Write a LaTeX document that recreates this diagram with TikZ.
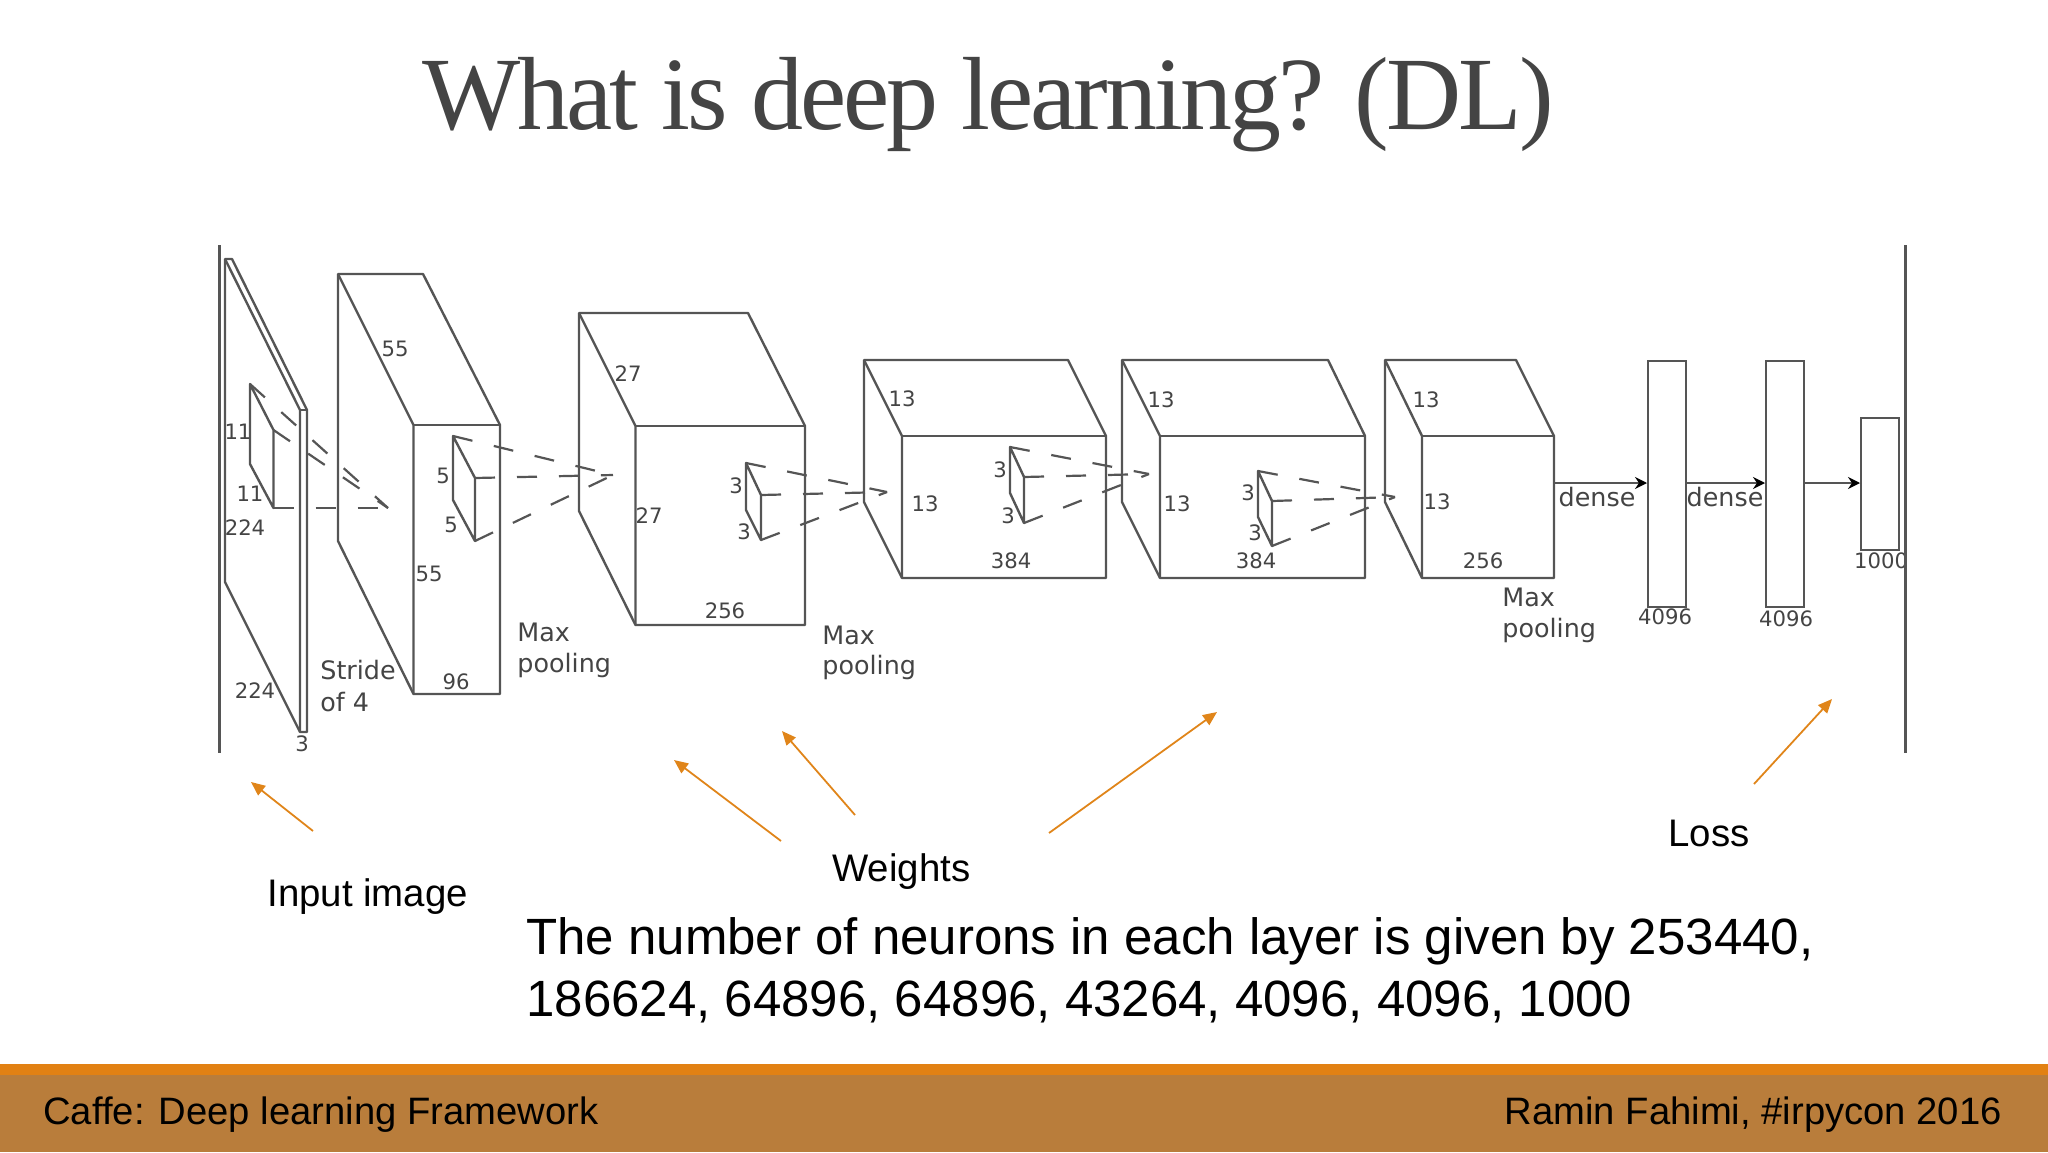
\documentclass[tikz,border=0pt]{standalone}
\usepackage{fontspec}
\setmainfont{Liberation Sans}
\newfontfamily\titlefont[LetterSpace=-2.9]{Liberation Serif}
\newfontfamily\figfont{DejaVu Sans}
\usetikzlibrary{arrows.meta}
\definecolor{figgray}{HTML}{555555}
\definecolor{figtext}{HTML}{444444}
\definecolor{orangeline}{HTML}{E0851A}
\definecolor{bandbrown}{HTML}{B97D3B}
\definecolor{bandtop}{HTML}{E28113}
\tikzset{
  wire/.style={draw=figgray,line width=1.2pt,line join=round},
  dashline/.style={draw=figgray,line width=1.1pt,dash pattern=on 10pt off 11pt},
  fcbox/.style={draw=figgray,line width=1.2pt,minimum width=19pt,inner sep=0pt,anchor=north west},
  flow/.style={draw=figgray,line width=1.1pt,-{Stealth[length=6pt,width=6pt,color=black]}},
  callout/.style={draw=orangeline,line width=.9pt,-{Triangle[length=7pt,width=6pt]}},
  dim/.style={font=\figfont\fontsize{10.6}{11}\selectfont,text=figtext,inner sep=0pt},
  big/.style={font=\figfont\fontsize{12.7}{12.7}\selectfont,text=figtext,inner sep=0pt},
  say/.style={font=\fontsize{19.2}{19.2}\selectfont,text=black,inner sep=0pt},
  foot/.style={font=\fontsize{19.1}{19.1}\selectfont,text=black,inner sep=0pt},
  body/.style={font=\fontsize{25.5}{25.5}\selectfont,text=black,inner sep=0pt,anchor=west},
}
\begin{document}
\begin{tikzpicture}[x=0.5pt,y=-0.5pt]
\useasboundingbox (0,0) rectangle (2048,1152);
% footer band
\fill[bandbrown] (0,1075) rectangle (2048,1152);
\fill[bandtop] (0,1064) rectangle (2048,1075);
% title
\node[inner sep=0pt,font=\titlefont\fontsize{52}{52}\selectfont,text=figtext] (title) at (988,105) {What is deep learning? (DL)};
% frame lines
\draw[draw=figgray,line width=1.5pt] (219,245) -- (219,753);
\draw[draw=figgray,line width=1.5pt] (1905,245) -- (1905,753);
% input plate
\draw[wire] (225,259) -- (232,259) -- (307,410) -- (307,732) -- (300,732) -- (225,582) -- cycle;
\draw[wire] (225,259) -- (300,410) -- (300,732);
\draw[wire] (300,410) -- (307,410);
\coordinate (a1) at (250,384); \coordinate (a2) at (273.5,430); \coordinate (a3) at (273.5,508); \coordinate (a4) at (250,464);
\draw[wire] (a1) -- (a2) -- (a3) -- (a4) -- cycle;
\coordinate (ca) at (388,508);
\draw[dashline] (a1) -- (ca); \draw[dashline] (a2) -- (ca); \draw[dashline] (a3) -- (ca);
% conv 1
\draw[wire] (338,541) -- (338,274) -- (423,274) -- (500,425) -- (500,694) -- (413.5,694) -- cycle;
\draw[wire] (338,274) -- (413.5,425) -- (413.5,694);
\draw[wire] (413.5,425) -- (500,425);
\coordinate (b1) at (453,436); \coordinate (b2) at (475,478); \coordinate (b3) at (475,541); \coordinate (b4) at (453,500);
\draw[wire] (b1) -- (b2) -- (b3) -- (b4) -- cycle;
\coordinate (cb) at (613,475);
\draw[dashline] (b1) -- (cb); \draw[dashline] (b2) -- (cb); \draw[dashline] (b3) -- (cb);
% conv 2
\draw[wire] (579,511) -- (579,313) -- (748,313) -- (805,426) -- (805,625) -- (635.5,625) -- cycle;
\draw[wire] (579,313) -- (635.5,426) -- (635.5,625);
\draw[wire] (635.5,426) -- (805,426);
\coordinate (c1) at (746,463); \coordinate (c2) at (761,495); \coordinate (c3) at (761,540); \coordinate (c4) at (746,510);
\draw[wire] (c1) -- (c2) -- (c3) -- (c4) -- cycle;
\coordinate (cc) at (887,492);
\draw[dashline] (c1) -- (cc); \draw[dashline] (c2) -- (cc); \draw[dashline] (c3) -- (cc);
% conv 3
\draw[wire] (864,502) -- (864,360) -- (1068,360) -- (1106,436) -- (1106,578) -- (902,578) -- cycle;
\draw[wire] (864,360) -- (902,436) -- (902,578);
\draw[wire] (902,436) -- (1106,436);
\coordinate (d1) at (1010,447); \coordinate (d2) at (1024,477); \coordinate (d3) at (1024,523); \coordinate (d4) at (1010,493);
\draw[wire] (d1) -- (d2) -- (d3) -- (d4) -- cycle;
\coordinate (cd) at (1149,474);
\draw[dashline] (d1) -- (cd); \draw[dashline] (d2) -- (cd); \draw[dashline] (d3) -- (cd);
% conv 4
\draw[wire] (1122,502) -- (1122,360) -- (1328,360) -- (1365,436) -- (1365,578) -- (1160,578) -- cycle;
\draw[wire] (1122,360) -- (1160,436) -- (1160,578);
\draw[wire] (1160,436) -- (1365,436);
\coordinate (e1) at (1258,471); \coordinate (e2) at (1272,501); \coordinate (e3) at (1272,546); \coordinate (e4) at (1258,517);
\draw[wire] (e1) -- (e2) -- (e3) -- (e4) -- cycle;
\coordinate (ce) at (1395,497);
\draw[dashline] (e1) -- (ce); \draw[dashline] (e2) -- (ce); \draw[dashline] (e3) -- (ce);
% conv 5
\draw[wire] (1385,502) -- (1385,360) -- (1516,360) -- (1554,436) -- (1554,578) -- (1422,578) -- cycle;
\draw[wire] (1385,360) -- (1422,436) -- (1422,578);
\draw[wire] (1422,436) -- (1554,436);
\coordinate (flowstart) at (1554,483);
% dense layers
\node[fcbox,minimum height=123pt] (fc1) at (1647,359.5) {};
\node[fcbox,minimum height=123pt] (fc2) at (1765,359.5) {};
\node[fcbox,minimum height=66pt] (fc3) at (1860,416.5) {};
\draw[flow] (flowstart) -- (flowstart -| fc1.west);
\draw[flow] (flowstart -| fc1.east) -- (flowstart -| fc2.west);
\draw[flow] (flowstart -| fc2.east) -- (flowstart -| fc3.west);
% dimension labels
\node[dim] (l1) at (238,432) {11};
\node[dim] (l2) at (250,494) {11};
\node[dim] (l3) at (245,528) {224};
\node[dim] (l4) at (255,691) {224};
\node[dim] (l5) at (302,744) {3};
\node[dim] (l6) at (395,349) {55};
\node[dim] (l7) at (443,476) {5};
\node[dim] (l8) at (451,525) {5};
\node[dim] (l9) at (429,574) {55};
\node[dim] (l10) at (456,682) {96};
\node[dim] (l11) at (628,374) {27};
\node[dim] (l12) at (649,516) {27};
\node[dim] (l13) at (725,611) {256};
\node[dim] (l14) at (736,486) {3};
\node[dim] (l15) at (744,532) {3};
\node[dim] (l16) at (902,399) {13};
\node[dim] (l17) at (925,504) {13};
\node[dim] (l18) at (1011,561) {384};
\node[dim] (l19) at (1000,470) {3};
\node[dim] (l20) at (1008,516) {3};
\node[dim] (l21) at (1161,400) {13};
\node[dim] (l22) at (1177,504) {13};
\node[dim] (l23) at (1256,561) {384};
\node[dim] (l24) at (1248,493) {3};
\node[dim] (l25) at (1255,533) {3};
\node[dim] (l26) at (1426,400) {13};
\node[dim] (l27) at (1437,502) {13};
\node[dim] (l28) at (1483,561) {256};
\node[dim] (l29) at (1665,617) {4096};
\node[dim] (l30) at (1786,619) {4096};
\begin{scope}
\clip (1850,545) rectangle (1903,580);
\node[dim] (l31) at (1881,561) {1000};
\end{scope}
% operation labels
\node[big,anchor=west] (s1) at (320,670) {Stride};
\node[big,anchor=west] (s2) at (320,702) {of 4};
\node[big,anchor=west] (m1) at (517,632) {Max};
\node[big,anchor=west] (m2) at (517,665) {pooling};
\node[big,anchor=west] (m3) at (822,635) {Max};
\node[big,anchor=west] (m4) at (822,667) {pooling};
\node[big,anchor=west] (m5) at (1502,597) {Max};
\node[big,anchor=west] (m6) at (1502,630) {pooling};
\node[big] (de1) at (1597,497) {dense};
\node[big] (de2) at (1725,497) {dense};
% callouts
\node[say,anchor=west] (inp) at (267,897) {Input image};
\node[say,anchor=west] (wei) at (832,872) {Weights};
\node[say,anchor=west] (los) at (1668,833) {Loss};
\coordinate (i0) at (313,831); \coordinate (i1) at (251,782);
\coordinate (w0) at (781,841); \coordinate (w1) at (674,760);
\coordinate (w2) at (855,815); \coordinate (w3) at (782,731);
\coordinate (w4) at (1049,833); \coordinate (w5) at (1217,712);
\coordinate (l0) at (1754,784); \coordinate (l1c) at (1832,699);
\draw[callout] (i0) -- (i1);
\draw[callout] (w0) -- (w1);
\draw[callout] (w2) -- (w3);
\draw[callout] (w4) -- (w5);
\draw[callout] (l0) -- (l1c);
% body
\node[body] (b1t) at (526,941) {The number of neurons in each layer is given by 253440,};
\node[body] (b2t) at (526,1002) {186624, 64896, 64896, 43264, 4096, 4096, 1000};
% footer
\node[foot,anchor=west] (fl) at (43,1115) {Caffe: Deep learning Framework};
\node[foot,anchor=east] (fr) at (2002,1115) {Ramin Fahimi, \#irpycon 2016};
\end{tikzpicture}
\end{document}
